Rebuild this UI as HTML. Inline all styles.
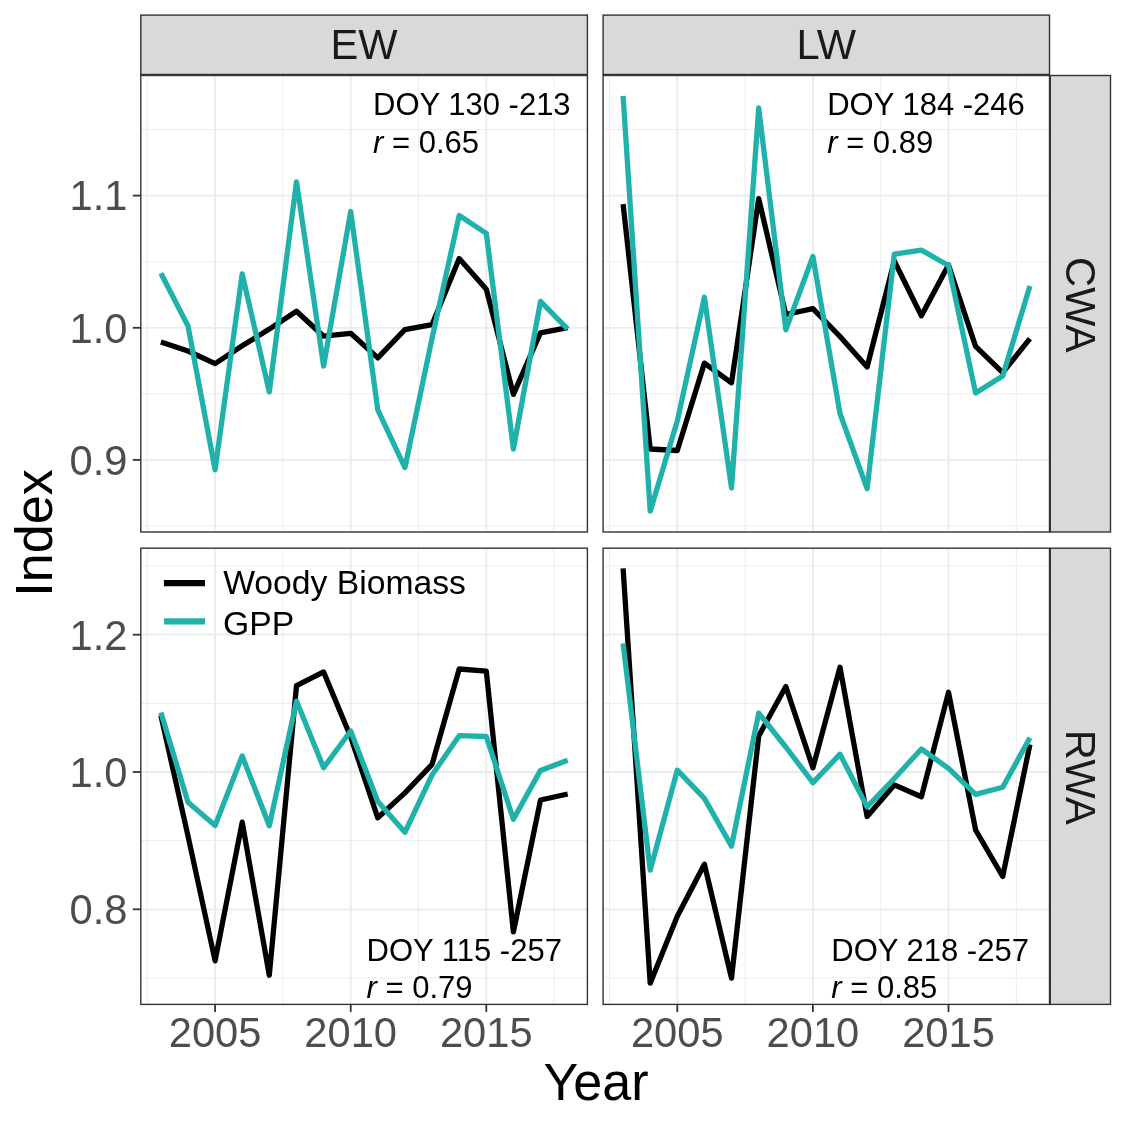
<!DOCTYPE html>
<html lang="en"><head><meta charset="utf-8"><title>Index by Year</title>
<style>html,body{margin:0;padding:0;background:#fff}svg{display:block}text{font-kerning:normal}</style></head>
<body>
<svg width="1125" height="1125" viewBox="0 0 1125 1125" font-family="&quot;Liberation Sans&quot;, sans-serif">
<rect width="1125" height="1125" fill="#fff"/>
<rect x="140.8" y="15.1" width="446.6" height="59.4" fill="#D9D9D9" stroke="#333333" stroke-width="1.4"/>
<text x="364.1" y="59.4" font-size="41.67" fill="#1A1A1A" text-anchor="middle">EW</text>
<rect x="603.1" y="15.1" width="446.4" height="59.4" fill="#D9D9D9" stroke="#333333" stroke-width="1.4"/>
<text x="826.3" y="59.4" font-size="41.67" fill="#1A1A1A" text-anchor="middle">LW</text>
<rect x="1050.3" y="75.5" width="60.2" height="456.5" fill="#D9D9D9" stroke="#333333" stroke-width="1.4"/>
<text transform="translate(1065.6,304.8) rotate(90)" font-size="41.67" fill="#1A1A1A" text-anchor="middle">CWA</text>
<rect x="1050.3" y="548.2" width="60.2" height="456.2" fill="#D9D9D9" stroke="#333333" stroke-width="1.4"/>
<text transform="translate(1065.6,777.3) rotate(90)" font-size="41.67" fill="#1A1A1A" text-anchor="middle">RWA</text>
<g>
<rect x="140.8" y="75.5" width="446.6" height="456.5" fill="#fff"/>
<line x1="140.8" x2="587.4" y1="526.0" y2="526.0" stroke="#EBEBEB" stroke-width="0.9"/>
<line x1="140.8" x2="587.4" y1="393.8" y2="393.8" stroke="#EBEBEB" stroke-width="0.9"/>
<line x1="140.8" x2="587.4" y1="261.7" y2="261.7" stroke="#EBEBEB" stroke-width="0.9"/>
<line x1="140.8" x2="587.4" y1="129.5" y2="129.5" stroke="#EBEBEB" stroke-width="0.9"/>
<line x1="147.3" x2="147.3" y1="75.5" y2="532.0" stroke="#EBEBEB" stroke-width="0.9"/>
<line x1="282.9" x2="282.9" y1="75.5" y2="532.0" stroke="#EBEBEB" stroke-width="0.9"/>
<line x1="418.5" x2="418.5" y1="75.5" y2="532.0" stroke="#EBEBEB" stroke-width="0.9"/>
<line x1="554.1" x2="554.1" y1="75.5" y2="532.0" stroke="#EBEBEB" stroke-width="0.9"/>
<line x1="140.8" x2="587.4" y1="459.9" y2="459.9" stroke="#EBEBEB" stroke-width="1.8"/>
<line x1="140.8" x2="587.4" y1="327.8" y2="327.8" stroke="#EBEBEB" stroke-width="1.8"/>
<line x1="140.8" x2="587.4" y1="195.6" y2="195.6" stroke="#EBEBEB" stroke-width="1.8"/>
<line x1="215.1" x2="215.1" y1="75.5" y2="532.0" stroke="#EBEBEB" stroke-width="1.8"/>
<line x1="350.7" x2="350.7" y1="75.5" y2="532.0" stroke="#EBEBEB" stroke-width="1.8"/>
<line x1="486.3" x2="486.3" y1="75.5" y2="532.0" stroke="#EBEBEB" stroke-width="1.8"/>
<path d="M160.9,342.0 L188.0,351.0 L215.1,363.6 L242.2,345.8 L269.3,329.1 L296.5,311.3 L323.6,336.2 L350.7,333.3 L377.8,357.9 L404.9,329.7 L432.1,324.6 L459.2,258.6 L486.3,289.2 L513.4,394.4 L540.5,332.8 L567.7,327.7" fill="none" stroke="#000" stroke-width="5.3" stroke-linejoin="round" stroke-miterlimit="4.0" stroke-linecap="butt"/>
<path d="M160.9,273.2 L188.0,326.0 L215.1,469.7 L242.2,273.9 L269.3,391.9 L296.5,181.8 L323.6,366.0 L350.7,211.5 L377.8,409.8 L404.9,467.6 L432.1,338.0 L459.2,215.5 L486.3,233.4 L513.4,449.1 L540.5,301.4 L567.7,329.1" fill="none" stroke="#20B2AA" stroke-width="5.3" stroke-linejoin="round" stroke-miterlimit="4.0" stroke-linecap="butt"/>
<rect x="140.8" y="75.5" width="446.6" height="456.5" fill="none" stroke="#333333" stroke-width="1.4"/>
</g>
<g>
<rect x="603.1" y="75.5" width="446.4" height="456.5" fill="#fff"/>
<line x1="603.1" x2="1049.5" y1="526.0" y2="526.0" stroke="#EBEBEB" stroke-width="0.9"/>
<line x1="603.1" x2="1049.5" y1="393.8" y2="393.8" stroke="#EBEBEB" stroke-width="0.9"/>
<line x1="603.1" x2="1049.5" y1="261.7" y2="261.7" stroke="#EBEBEB" stroke-width="0.9"/>
<line x1="603.1" x2="1049.5" y1="129.5" y2="129.5" stroke="#EBEBEB" stroke-width="0.9"/>
<line x1="609.5" x2="609.5" y1="75.5" y2="532.0" stroke="#EBEBEB" stroke-width="0.9"/>
<line x1="745.1" x2="745.1" y1="75.5" y2="532.0" stroke="#EBEBEB" stroke-width="0.9"/>
<line x1="880.7" x2="880.7" y1="75.5" y2="532.0" stroke="#EBEBEB" stroke-width="0.9"/>
<line x1="1016.3" x2="1016.3" y1="75.5" y2="532.0" stroke="#EBEBEB" stroke-width="0.9"/>
<line x1="603.1" x2="1049.5" y1="459.9" y2="459.9" stroke="#EBEBEB" stroke-width="1.8"/>
<line x1="603.1" x2="1049.5" y1="327.8" y2="327.8" stroke="#EBEBEB" stroke-width="1.8"/>
<line x1="603.1" x2="1049.5" y1="195.6" y2="195.6" stroke="#EBEBEB" stroke-width="1.8"/>
<line x1="677.3" x2="677.3" y1="75.5" y2="532.0" stroke="#EBEBEB" stroke-width="1.8"/>
<line x1="812.9" x2="812.9" y1="75.5" y2="532.0" stroke="#EBEBEB" stroke-width="1.8"/>
<line x1="948.5" x2="948.5" y1="75.5" y2="532.0" stroke="#EBEBEB" stroke-width="1.8"/>
<path d="M623.1,204.1 L650.2,449.0 L677.3,450.5 L704.4,363.1 L731.5,382.8 L758.7,198.6 L785.8,314.5 L812.9,308.7 L840.0,336.5 L867.1,367.0 L894.3,261.0 L921.4,315.8 L948.5,265.1 L975.6,346.4 L1002.7,372.6 L1029.9,338.7" fill="none" stroke="#000" stroke-width="5.3" stroke-linejoin="round" stroke-miterlimit="4.0" stroke-linecap="butt"/>
<path d="M623.1,95.9 L650.2,511.2 L677.3,420.9 L704.4,297.3 L731.5,488.0 L758.7,108.0 L785.8,329.8 L812.9,256.5 L840.0,413.5 L867.1,488.7 L894.3,254.2 L921.4,250.1 L948.5,265.5 L975.6,393.0 L1002.7,376.1 L1029.9,286.1" fill="none" stroke="#20B2AA" stroke-width="5.3" stroke-linejoin="round" stroke-miterlimit="4.0" stroke-linecap="butt"/>
<rect x="603.1" y="75.5" width="446.4" height="456.5" fill="none" stroke="#333333" stroke-width="1.4"/>
</g>
<line x1="132.8" x2="140.8" y1="459.9" y2="459.9" stroke="#333333" stroke-width="1.8"/>
<text x="127.5" y="474.7" font-size="41.67" fill="#4D4D4D" text-anchor="end">0.9</text>
<line x1="132.8" x2="140.8" y1="327.8" y2="327.8" stroke="#333333" stroke-width="1.8"/>
<text x="127.5" y="342.6" font-size="41.67" fill="#4D4D4D" text-anchor="end">1.0</text>
<line x1="132.8" x2="140.8" y1="195.6" y2="195.6" stroke="#333333" stroke-width="1.8"/>
<text x="127.5" y="210.4" font-size="41.67" fill="#4D4D4D" text-anchor="end">1.1</text>
<g>
<rect x="140.8" y="548.2" width="446.6" height="456.2" fill="#fff"/>
<line x1="140.8" x2="587.4" y1="977.9" y2="977.9" stroke="#EBEBEB" stroke-width="0.9"/>
<line x1="140.8" x2="587.4" y1="840.6" y2="840.6" stroke="#EBEBEB" stroke-width="0.9"/>
<line x1="140.8" x2="587.4" y1="703.4" y2="703.4" stroke="#EBEBEB" stroke-width="0.9"/>
<line x1="140.8" x2="587.4" y1="566.1" y2="566.1" stroke="#EBEBEB" stroke-width="0.9"/>
<line x1="147.3" x2="147.3" y1="548.2" y2="1004.4" stroke="#EBEBEB" stroke-width="0.9"/>
<line x1="282.9" x2="282.9" y1="548.2" y2="1004.4" stroke="#EBEBEB" stroke-width="0.9"/>
<line x1="418.5" x2="418.5" y1="548.2" y2="1004.4" stroke="#EBEBEB" stroke-width="0.9"/>
<line x1="554.1" x2="554.1" y1="548.2" y2="1004.4" stroke="#EBEBEB" stroke-width="0.9"/>
<line x1="140.8" x2="587.4" y1="909.3" y2="909.3" stroke="#EBEBEB" stroke-width="1.8"/>
<line x1="140.8" x2="587.4" y1="772.0" y2="772.0" stroke="#EBEBEB" stroke-width="1.8"/>
<line x1="140.8" x2="587.4" y1="634.7" y2="634.7" stroke="#EBEBEB" stroke-width="1.8"/>
<line x1="215.1" x2="215.1" y1="548.2" y2="1004.4" stroke="#EBEBEB" stroke-width="1.8"/>
<line x1="350.7" x2="350.7" y1="548.2" y2="1004.4" stroke="#EBEBEB" stroke-width="1.8"/>
<line x1="486.3" x2="486.3" y1="548.2" y2="1004.4" stroke="#EBEBEB" stroke-width="1.8"/>
<path d="M160.9,715.5 L188.0,836.0 L215.1,960.8 L242.2,822.2 L269.3,975.2 L296.5,685.7 L323.6,671.9 L350.7,737.0 L377.8,817.8 L404.9,792.9 L432.1,764.3 L459.2,669.0 L486.3,671.1 L513.4,931.9 L540.5,800.0 L567.7,794.0" fill="none" stroke="#000" stroke-width="5.3" stroke-linejoin="round" stroke-miterlimit="4.0" stroke-linecap="butt"/>
<path d="M160.9,712.4 L188.0,802.3 L215.1,825.6 L242.2,756.0 L269.3,825.7 L296.5,701.1 L323.6,767.7 L350.7,731.0 L377.8,801.5 L404.9,832.3 L432.1,774.9 L459.2,735.7 L486.3,736.5 L513.4,819.3 L540.5,770.4 L567.7,760.2" fill="none" stroke="#20B2AA" stroke-width="5.3" stroke-linejoin="round" stroke-miterlimit="4.0" stroke-linecap="butt"/>
<rect x="140.8" y="548.2" width="446.6" height="456.2" fill="none" stroke="#333333" stroke-width="1.4"/>
</g>
<g>
<rect x="603.1" y="548.2" width="446.4" height="456.2" fill="#fff"/>
<line x1="603.1" x2="1049.5" y1="977.9" y2="977.9" stroke="#EBEBEB" stroke-width="0.9"/>
<line x1="603.1" x2="1049.5" y1="840.6" y2="840.6" stroke="#EBEBEB" stroke-width="0.9"/>
<line x1="603.1" x2="1049.5" y1="703.4" y2="703.4" stroke="#EBEBEB" stroke-width="0.9"/>
<line x1="603.1" x2="1049.5" y1="566.1" y2="566.1" stroke="#EBEBEB" stroke-width="0.9"/>
<line x1="609.5" x2="609.5" y1="548.2" y2="1004.4" stroke="#EBEBEB" stroke-width="0.9"/>
<line x1="745.1" x2="745.1" y1="548.2" y2="1004.4" stroke="#EBEBEB" stroke-width="0.9"/>
<line x1="880.7" x2="880.7" y1="548.2" y2="1004.4" stroke="#EBEBEB" stroke-width="0.9"/>
<line x1="1016.3" x2="1016.3" y1="548.2" y2="1004.4" stroke="#EBEBEB" stroke-width="0.9"/>
<line x1="603.1" x2="1049.5" y1="909.3" y2="909.3" stroke="#EBEBEB" stroke-width="1.8"/>
<line x1="603.1" x2="1049.5" y1="772.0" y2="772.0" stroke="#EBEBEB" stroke-width="1.8"/>
<line x1="603.1" x2="1049.5" y1="634.7" y2="634.7" stroke="#EBEBEB" stroke-width="1.8"/>
<line x1="677.3" x2="677.3" y1="548.2" y2="1004.4" stroke="#EBEBEB" stroke-width="1.8"/>
<line x1="812.9" x2="812.9" y1="548.2" y2="1004.4" stroke="#EBEBEB" stroke-width="1.8"/>
<line x1="948.5" x2="948.5" y1="548.2" y2="1004.4" stroke="#EBEBEB" stroke-width="1.8"/>
<path d="M623.1,568.4 L650.2,983.2 L677.3,916.2 L704.4,864.2 L731.5,978.1 L758.7,736.1 L785.8,686.5 L812.9,767.8 L840.0,667.2 L867.1,816.5 L894.3,784.9 L921.4,796.8 L948.5,692.3 L975.6,830.0 L1002.7,876.5 L1029.9,744.5" fill="none" stroke="#000" stroke-width="5.3" stroke-linejoin="round" stroke-miterlimit="4.0" stroke-linecap="butt"/>
<path d="M623.1,643.4 L650.2,870.2 L677.3,770.2 L704.4,798.4 L731.5,846.1 L758.7,713.2 L785.8,747.0 L812.9,782.7 L840.0,754.2 L867.1,806.9 L894.3,778.5 L921.4,749.0 L948.5,768.4 L975.6,794.4 L1002.7,787.3 L1029.9,737.7" fill="none" stroke="#20B2AA" stroke-width="5.3" stroke-linejoin="round" stroke-miterlimit="4.0" stroke-linecap="butt"/>
<rect x="603.1" y="548.2" width="446.4" height="456.2" fill="none" stroke="#333333" stroke-width="1.4"/>
</g>
<line x1="132.8" x2="140.8" y1="909.3" y2="909.3" stroke="#333333" stroke-width="1.8"/>
<text x="127.5" y="924.1" font-size="41.67" fill="#4D4D4D" text-anchor="end">0.8</text>
<line x1="132.8" x2="140.8" y1="772.0" y2="772.0" stroke="#333333" stroke-width="1.8"/>
<text x="127.5" y="786.8" font-size="41.67" fill="#4D4D4D" text-anchor="end">1.0</text>
<line x1="132.8" x2="140.8" y1="634.7" y2="634.7" stroke="#333333" stroke-width="1.8"/>
<text x="127.5" y="649.5" font-size="41.67" fill="#4D4D4D" text-anchor="end">1.2</text>
<line x1="215.1" x2="215.1" y1="1004.4" y2="1012.1" stroke="#333333" stroke-width="1.8"/>
<text x="215.1" y="1047" font-size="41.67" fill="#4D4D4D" text-anchor="middle">2005</text>
<line x1="350.7" x2="350.7" y1="1004.4" y2="1012.1" stroke="#333333" stroke-width="1.8"/>
<text x="350.7" y="1047" font-size="41.67" fill="#4D4D4D" text-anchor="middle">2010</text>
<line x1="486.3" x2="486.3" y1="1004.4" y2="1012.1" stroke="#333333" stroke-width="1.8"/>
<text x="486.3" y="1047" font-size="41.67" fill="#4D4D4D" text-anchor="middle">2015</text>
<line x1="677.3" x2="677.3" y1="1004.4" y2="1012.1" stroke="#333333" stroke-width="1.8"/>
<text x="677.3" y="1047" font-size="41.67" fill="#4D4D4D" text-anchor="middle">2005</text>
<line x1="812.9" x2="812.9" y1="1004.4" y2="1012.1" stroke="#333333" stroke-width="1.8"/>
<text x="812.9" y="1047" font-size="41.67" fill="#4D4D4D" text-anchor="middle">2010</text>
<line x1="948.5" x2="948.5" y1="1004.4" y2="1012.1" stroke="#333333" stroke-width="1.8"/>
<text x="948.5" y="1047" font-size="41.67" fill="#4D4D4D" text-anchor="middle">2015</text>
<text x="596.0" y="1099.7" font-size="52.08" fill="#000" text-anchor="middle">Year</text>
<text transform="translate(51.5,533.0) rotate(-90)" font-size="52.08" fill="#000" text-anchor="middle">Index</text>
<text x="373.0" y="115.0" font-size="31" fill="#000">DOY 130 -213</text>
<text x="373.0" y="152.6" font-size="31" fill="#000"><tspan font-style="italic">r</tspan> = 0.65</text>
<text x="827.2" y="115.0" font-size="31" fill="#000">DOY 184 -246</text>
<text x="827.2" y="152.6" font-size="31" fill="#000"><tspan font-style="italic">r</tspan> = 0.89</text>
<text x="366.6" y="960.6" font-size="31" fill="#000">DOY 115 -257</text>
<text x="366.6" y="998.2" font-size="31" fill="#000"><tspan font-style="italic">r</tspan> = 0.79</text>
<text x="831.3" y="960.6" font-size="31" fill="#000">DOY 218 -257</text>
<text x="831.3" y="998.2" font-size="31" fill="#000"><tspan font-style="italic">r</tspan> = 0.85</text>
<line x1="163.9" x2="205.0" y1="583.1" y2="583.1" stroke="#000" stroke-width="6.3"/>
<line x1="163.9" x2="205.0" y1="621.4" y2="621.4" stroke="#20B2AA" stroke-width="6.3"/>
<text x="223.2" y="593.7" font-size="33.7" fill="#000">Woody Biomass</text>
<text x="223.0" y="634.7" font-size="33.7" fill="#000">GPP</text>
</svg>
</body></html>
